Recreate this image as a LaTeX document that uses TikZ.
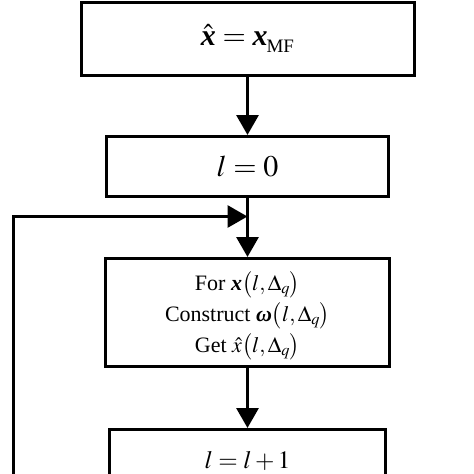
\documentclass[tikz,border=0pt]{standalone}
\usepackage{amsmath}
\usepackage{mathptmx}
\usepackage[no-math]{fontspec}
\setmainfont{Liberation Serif}
\usetikzlibrary{arrows.meta}
\newcommand{\bx}{\text{\bfseries\itshape x}}
\newcommand{\bom}{\text{\bfseries\itshape ω}}
\newcommand{\subMF}{\raisebox{-7pt}{\fontsize{19}{19}\selectfont MF}}
\begin{document}
\begin{tikzpicture}[x=1pt,y=-1pt,line width=3pt,
  box/.style={draw,rectangle,inner sep=0pt,font=\fontsize{30}{36}\selectfont},
  lbl/.style={inner sep=0pt,align=center},
  arr/.style={-{Triangle[length=20pt,width=22pt]}}]
\useasboundingbox (0,0) rectangle (474,474);
\clip (0,0) rectangle (474,474);
\node[box,minimum width=333pt,minimum height=73pt] (b1) at (247.5,38.5) {$\hat{\bx} = \bx$\kern-1pt\subMF};
\node[box,minimum width=282pt,minimum height=60pt] (b2) at (247.5,166.5) {$l = 0$};
\node[box,minimum width=284pt,minimum height=108pt] (b3) at (247.5,312.5) {};
\node[lbl,font=\fontsize{22}{31}\selectfont] (t3) at (247.5,316)
  {For $\bx\bigl(l,\Delta_q\bigr)$\\ Construct $\bom\bigl(l,\Delta_q\bigr)$\\ Get $\hat{x}\bigl(l,\Delta_q\bigr)$};
\node[box,minimum width=276pt,minimum height=62pt,font=\fontsize{25}{30}\selectfont] (b4) at (247.5,460.5) {$l = l+1$};
\coordinate (j) at (247.5,216.5);
\coordinate (c1) at (13.5,520);
\draw[arr] (b1.south) -- (b2.north);
\draw[arr] (b2.south) -- (b3.north);
\draw[arr] (b3.south) -- (b4.north);
\draw[arr] (b4.south) |- (c1) |- (j);
\end{tikzpicture}
\end{document}
